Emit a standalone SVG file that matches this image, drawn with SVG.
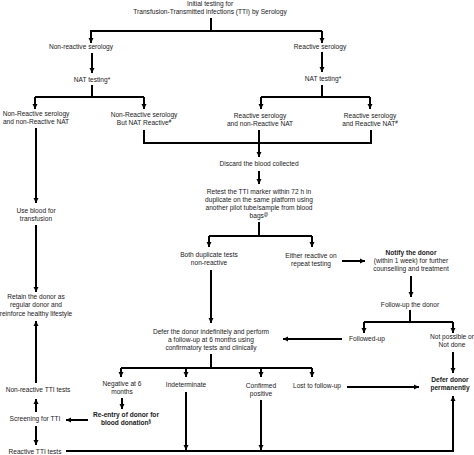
<svg xmlns="http://www.w3.org/2000/svg" width="474" height="455" viewBox="0 0 474 455">
<defs>
<style>
text{font-family:"Liberation Sans",Arial,sans-serif;font-size:6.6px;fill:#1a1a1a;text-anchor:middle}
.b{font-weight:bold}
.sup{font-size:4.5px}
.c path{fill:none;stroke:#000;stroke-width:2}
.c .a{marker-end:url(#ah)}
</style>
<marker id="ah" markerUnits="userSpaceOnUse" markerWidth="6" markerHeight="6" refX="5" refY="3" orient="auto">
<path d="M0,0.5 L5,3 L0,5.5 z" fill="#000"/>
</marker>
</defs>
<rect width="474" height="455" fill="#fff"/>
<g class="c" id="connectors">
<path d="M211,18 V31"/>
<path d="M90,31 H322"/>
<path class="a" d="M91,31 V43"/>
<path class="a" d="M322,31 V43"/>
<path class="a" d="M92,53 V73"/>
<path class="a" d="M322,52 V72"/>
<path d="M92,85 V97 M35,97 H144"/>
<path class="a" d="M35,97 V109"/>
<path class="a" d="M144,97 V109"/>
<path d="M322,85 V97 M261,97 H370"/>
<path class="a" d="M261,97 V109"/>
<path class="a" d="M370,97 V109"/>
<path d="M144,130 V143 M371,130 V143 M143,143 H372"/>
<path class="a" d="M259,130 V157"/>
<path class="a" d="M259,171 V184"/>
<path d="M259,222 V236 M209,236 H312"/>
<path class="a" d="M209,236 V247"/>
<path class="a" d="M312,236 V247"/>
<path class="a" d="M342,261 H365"/>
<path class="a" d="M411,276 V297"/>
<path d="M410,310 V322 M364,322 H453"/>
<path class="a" d="M364,322 V333"/>
<path class="a" d="M453,322 V333"/>
<path class="a" d="M342,339 H283"/>
<path class="a" d="M453,352 V373"/>
<path class="a" d="M211,270 V323"/>
<path d="M211,354 V368 M121,368 H312"/>
<path class="a" d="M121,368 V377"/>
<path class="a" d="M186,368 V377"/>
<path class="a" d="M261,368 V377"/>
<path class="a" d="M312,368 V377"/>
<path class="a" d="M122,398 V409"/>
<path class="a" d="M88,420 H66"/>
<path class="a" d="M36,412 V399"/>
<path class="a" d="M36,426 V445"/>
<path class="a" d="M36,383 V321"/>
<path class="a" d="M36,128 V203"/>
<path class="a" d="M36,225 V292"/>
<path class="a" d="M347,387 H419"/>
<path class="a" d="M186,392 V450"/>
<path class="a" d="M261,400 V450"/>
<path d="M66,451 H454"/>
<path class="a" d="M453,452 V396"/>
</g>
<g id="n-initial"><text x="210" y="6">Initial testing for</text><text x="210" y="14">Transfusion-Transmitted infections (TTI) by Serology</text></g>
<g id="n-nonreactive"><text x="81" y="49">Non-reactive serology</text></g>
<g id="n-reactive"><text x="320" y="49">Reactive serology</text></g>
<g id="n-nat1"><text x="92" y="82">NAT testing*</text></g>
<g id="n-nat2"><text x="323" y="81">NAT testing*</text></g>
<g id="n-nrnr"><text x="36" y="116">Non-Reactive serology</text><text x="36" y="124">and non-Reactive NAT</text></g>
<g id="n-nrr"><text x="144" y="117">Non-Reactive serology</text><text x="144" y="125">But NAT Reactive<tspan class="sup" dy="-2.5">#</tspan></text></g>
<g id="n-rnr"><text x="260" y="118">Reactive serology</text><text x="260" y="126">and non-Reactive NAT</text></g>
<g id="n-rr"><text x="370" y="118">Reactive serology</text><text x="370" y="126">and Reactive NAT<tspan class="sup" dy="-2.5">#</tspan></text></g>
<g id="n-discard"><text x="259" y="166">Discard the blood collected</text></g>
<g id="n-retest"><text x="259" y="194">Retest the TTI marker within 72 h in</text><text x="259" y="202">duplicate on the same platform using</text><text x="259" y="210">another pilot tube/sample from blood</text><text x="259" y="218">bags<tspan class="sup" dy="-2.5">@</tspan></text></g>
<g id="n-both"><text x="209" y="257">Both duplicate tests</text><text x="209" y="265">non-reactive</text></g>
<g id="n-either"><text x="311" y="258">Either reactive on</text><text x="311" y="266">repeat testing</text></g>
<g id="n-notify"><text class="b" x="411" y="255">Notify the donor</text><text x="411" y="263">(within 1 week) for further</text><text x="411" y="271">counselling and treatment</text></g>
<g id="n-followup"><text x="410" y="307">Follow-up the donor</text></g>
<g id="n-followed"><text x="367" y="341">Followed-up</text></g>
<g id="n-notpossible"><text x="452" y="339">Not possible or</text><text x="452" y="347">Not done</text></g>
<g id="n-deferperm"><text class="b" x="450" y="382">Defer donor</text><text class="b" x="450" y="390">permanently</text></g>
<g id="n-deferindef"><text x="211" y="334">Defer the donor indefinitely and perform</text><text x="211" y="342">a follow-up at 6 months using</text><text x="211" y="350">confirmatory tests and clinically</text></g>
<g id="n-negative"><text x="122" y="386">Negative at 6</text><text x="122" y="394">months</text></g>
<g id="n-indet"><text x="186" y="387">Indeterminate</text></g>
<g id="n-confirmed"><text x="261" y="388">Confirmed</text><text x="261" y="396">positive</text></g>
<g id="n-lost"><text x="317" y="388">Lost to follow-up</text></g>
<g id="n-reentry"><text class="b" x="126" y="417">Re-entry of donor for</text><text class="b" x="126" y="425">blood donation<tspan class="sup" dy="-2.5">§</tspan></text></g>
<g id="n-screening"><text x="35" y="421">Screening for TTI</text></g>
<g id="n-nonreactivetti"><text x="38" y="392">Non-reactive TTI tests</text></g>
<g id="n-reactivetti"><text x="35" y="454">Reactive TTI tests</text></g>
<g id="n-useblood"><text x="36" y="213">Use blood for</text><text x="36" y="221">transfusion</text></g>
<g id="n-retain"><text x="36" y="299">Retain the donor as</text><text x="36" y="307">regular donor and</text><text x="36" y="316">reinforce healthy lifestyle</text></g>
</svg>
